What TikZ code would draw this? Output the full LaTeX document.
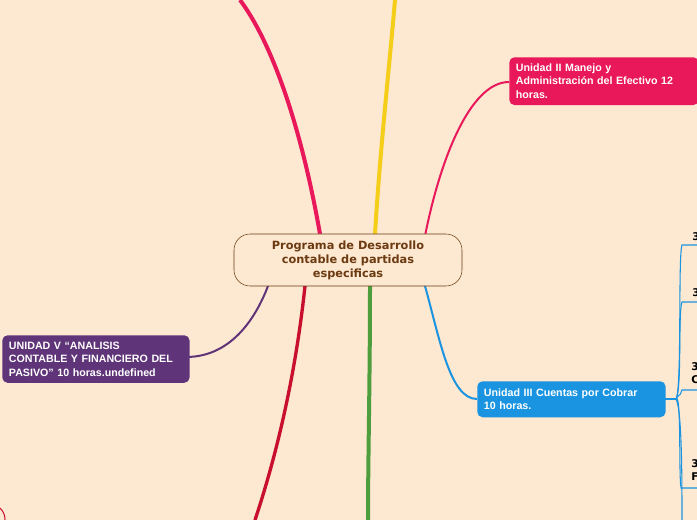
\documentclass[tikz,border=0pt]{standalone}
\usepackage{fontspec}
\setmainfont{DejaVu Sans}
\newfontfamily\boxfont{Liberation Sans}
\definecolor{bg}{HTML}{FDE8D1}
\definecolor{pinkc}{HTML}{E8185A}
\definecolor{bluec}{HTML}{1A94E0}
\definecolor{purp}{HTML}{5F3478}
\definecolor{yel}{HTML}{F5CE1A}
\definecolor{grn}{HTML}{4E9E3E}
\definecolor{redc}{HTML}{C8102E}
\definecolor{brn}{HTML}{6B3A10}
\begin{document}
\begin{tikzpicture}[x=0.75pt,y=-0.75pt,
 box/.style={rounded corners=4pt,text=white,font=\boxfont\bfseries\fontsize{8}{10}\selectfont,align=left,inner sep=5pt,anchor=north west},
 lbl/.style={font=\bfseries\fontsize{8}{10}\selectfont,anchor=north west,inner sep=0pt,align=left}]
\fill[bg] (0,0) rectangle (697,520);
\useasboundingbox (0,0) rectangle (697,520);
\clip (0,0) rectangle (697,520);
\draw[pinkc,line width=3pt] (320,234) .. controls (300,120) and (270,40) .. (240,0);
\draw[yel,line width=3pt] (375,234) .. controls (380,150) and (390,60) .. (395,0);
\draw[grn,line width=3pt] (370,286) .. controls (370,380) and (368,460) .. (368,520);
\draw[redc,line width=2.5pt] (305,286) .. controls (295,380) and (275,460) .. (255,520);
\draw[purp,line width=1.5pt] (268,286) .. controls (255,320) and (230,357) .. (186,357);
\draw[pinkc,line width=1.5pt] (425,236) .. controls (440,160) and (470,82) .. (509,82);
\draw[bluec,line width=1.5pt] (425,286) .. controls (440,340) and (450,399) .. (477,399);
\draw[redc,line width=0.8pt] (0,508) .. controls (4,512) and (5,516) .. (5,520);
\node[draw=brn,fill=bg,rounded corners=12pt,minimum width=228pt*0.75,minimum height=52pt*0.75,text=brn,font=\bfseries\fontsize{8.5}{10.5}\selectfont,align=center,inner sep=2pt] (c) at (348,260) {Programa de Desarrollo\\contable de partidas\\especificas};
\node[box,fill=pinkc,text width=176pt*0.75] (u2) at (509,57) {Unidad II Manejo y\\Administración del Efectivo 12\\horas.};
\node[box,fill=bluec,text width=175pt*0.75,minimum height=36pt*0.75] (u3) at (477,381) {Unidad III Cuentas por Cobrar\\10 horas.};
\node[box,fill=purp,text width=174pt*0.75] (u5) at (2,335) {UNIDAD V “ANALISIS\\CONTABLE Y FINANCIERO DEL\\PASIVO” 10 horas.undefined};
\coordinate (h) at (676,399);
\draw[bluec,line width=0.8pt] (662,399) -- (h);
\foreach \y in {245,302,390,488}{
 \draw[bluec,line width=0.8pt] (h) .. controls (682,390) and (678,\y+10) .. (682,\y) -- (697,\y);}
\draw[bluec,line width=0.8pt] (h) .. controls (682,410) and (682,480) .. (682,520);
\node[lbl] (t1) at (692,232) {3};
\node[lbl] (t2) at (692,288) {3};
\node[lbl] (t3) at (691,362) {3\\C};
\node[lbl] (t4) at (691,459) {3\\F};
\end{tikzpicture}
\end{document}
